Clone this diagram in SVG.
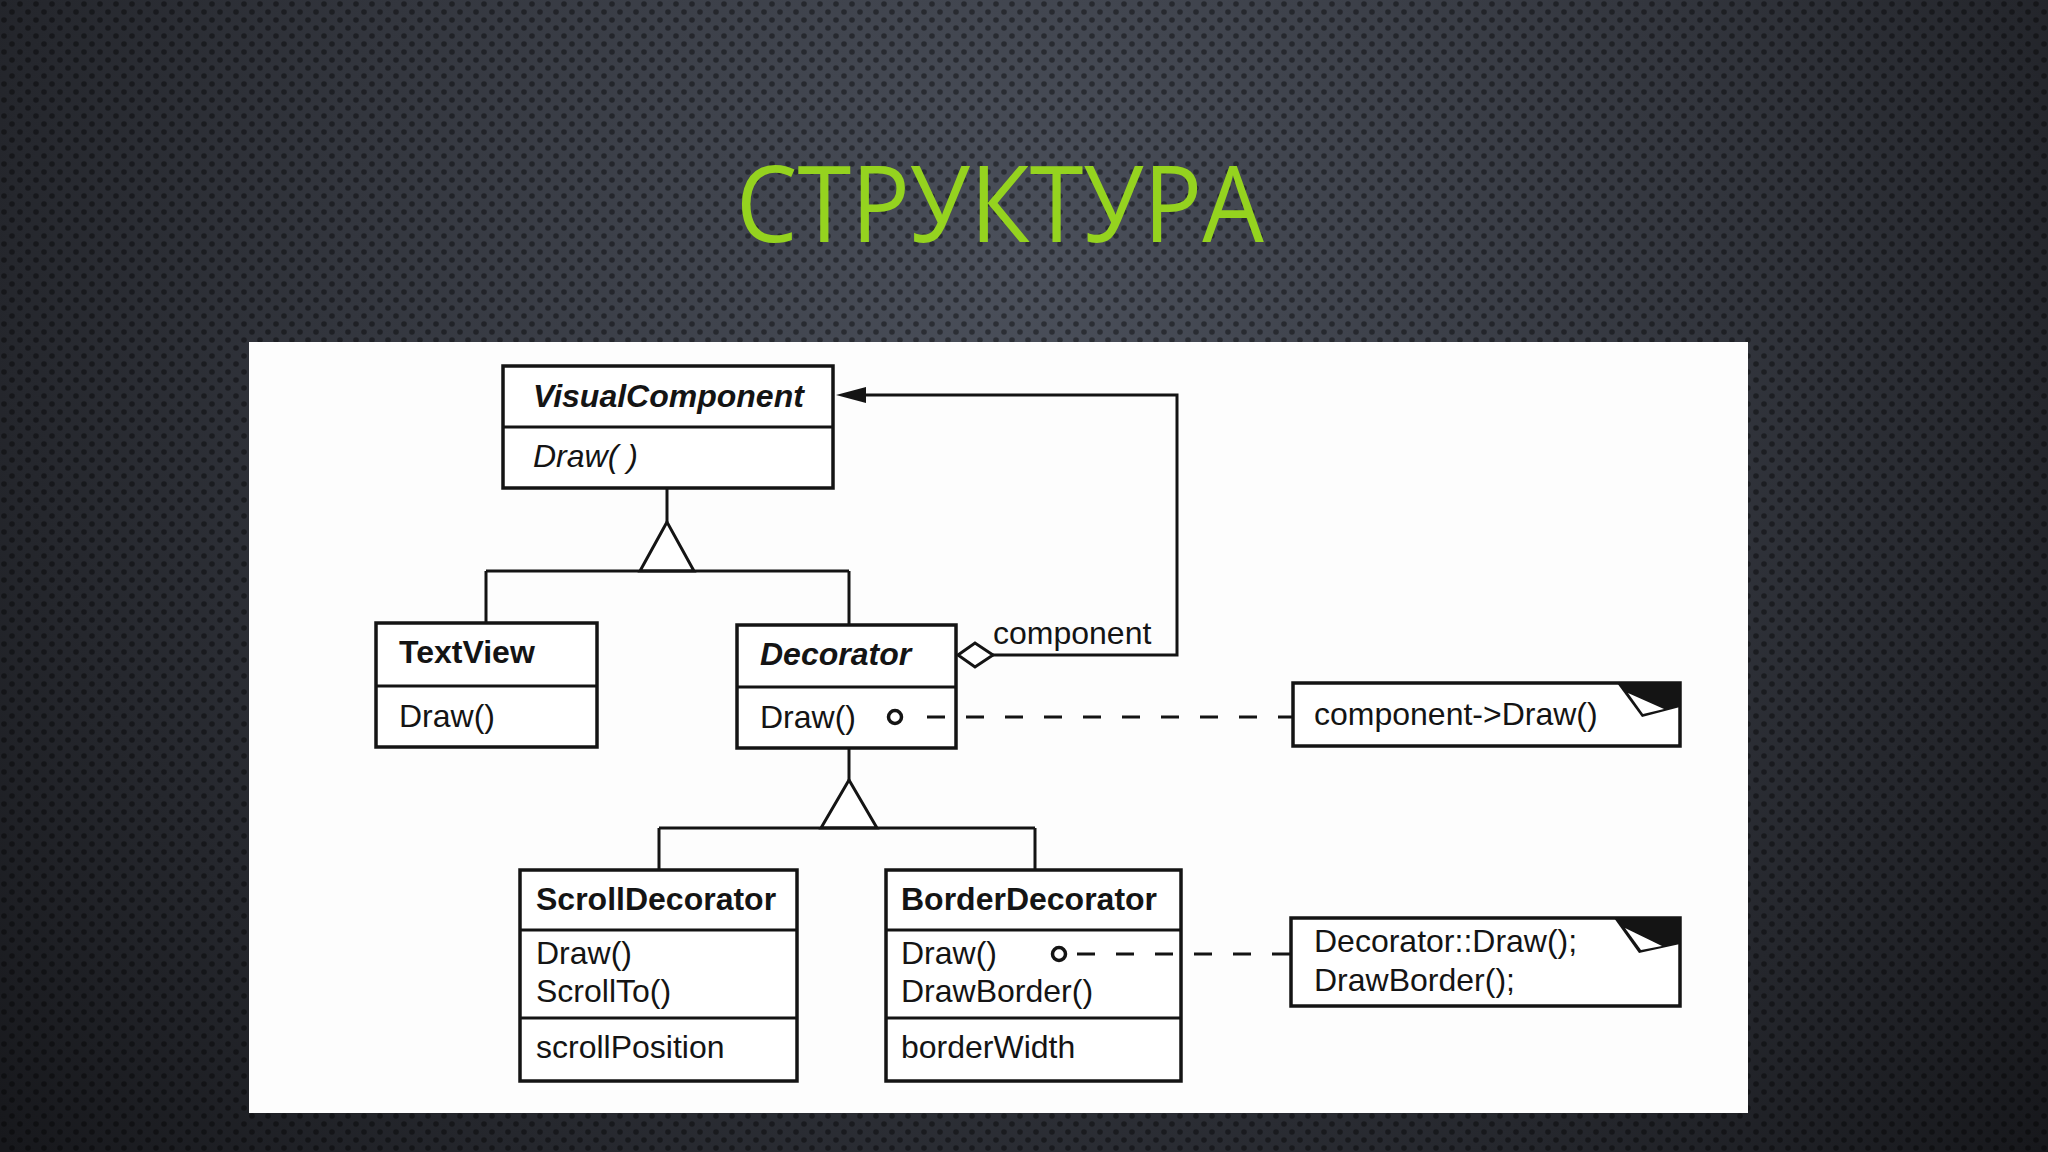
<svg xmlns="http://www.w3.org/2000/svg" width="2048" height="1152" viewBox="0 0 2048 1152">
<defs>
<radialGradient id="bg" cx="1024" cy="260" r="1350" gradientUnits="userSpaceOnUse">
<stop offset="0" stop-color="#4b505b"/>
<stop offset="0.5" stop-color="#33363e"/>
<stop offset="1" stop-color="#17181c"/>
</radialGradient>
<pattern id="dots" width="16" height="16" patternUnits="userSpaceOnUse">
<circle cx="4" cy="4" r="2.8" fill="#000" fill-opacity="0.4"/>
<circle cx="12" cy="12" r="2.8" fill="#000" fill-opacity="0.4"/>
</pattern>
</defs>
<style>
.box{fill:#fff;stroke:#141414;stroke-width:3.5}
.ln{fill:none;stroke:#141414;stroke-width:3}
.tri{fill:#fff;stroke:#141414;stroke-width:3;stroke-linejoin:miter}
.dash{fill:none;stroke:#141414;stroke-width:3;stroke-dasharray:18 21}
.dot{fill:#fff;stroke:#141414;stroke-width:3.5}
.t{font-family:"Liberation Sans",Arial,sans-serif;font-size:32px;fill:#141414}
.b{font-weight:bold;font-size:32px}
.i{font-style:italic}
.title{font-family:"Open Sans","Noto Sans",sans-serif;font-size:106px;fill:#95d31f}
</style>
<rect width="2048" height="1152" fill="url(#bg)"/>
<rect width="2048" height="1152" fill="url(#dots)"/>
<text class="title" x="1000" y="242" text-anchor="middle" textLength="528" lengthAdjust="spacingAndGlyphs">СТРУКТУРА</text>
<rect x="249" y="342" width="1499" height="771" fill="#fdfdfd"/>

<g id="VisualComponent">
<rect class="box" x="503" y="366" width="330" height="122"/>
<path class="ln" d="M503 427H833"/>
<text class="t b i" x="533" y="407">VisualComponent</text>
<text class="t i" x="533" y="467">Draw( )</text>
</g>

<g id="TextView">
<rect class="box" x="376" y="623" width="221" height="124"/>
<path class="ln" d="M376 686H597"/>
<text class="t b" x="399" y="663">TextView</text>
<text class="t" x="399" y="727">Draw()</text>
</g>

<g id="Decorator">
<rect class="box" x="737" y="625" width="219" height="123"/>
<path class="ln" d="M737 687H956"/>
<text class="t b i" x="760" y="665">Decorator</text>
<text class="t" x="760" y="728">Draw()</text>
</g>

<g id="ScrollDecorator">
<rect class="box" x="520" y="870" width="277" height="211"/>
<path class="ln" d="M520 930H797M520 1018H797"/>
<text class="t b" x="536" y="910">ScrollDecorator</text>
<text class="t" x="536" y="964">Draw()</text>
<text class="t" x="536" y="1002">ScrollTo()</text>
<text class="t" x="536" y="1058">scrollPosition</text>
</g>

<g id="BorderDecorator">
<rect class="box" x="886" y="870" width="295" height="211"/>
<path class="ln" d="M886 930H1181M886 1018H1181"/>
<text class="t b" x="901" y="910">BorderDecorator</text>
<text class="t" x="901" y="964">Draw()</text>
<text class="t" x="901" y="1002">DrawBorder()</text>
<text class="t" x="901" y="1058">borderWidth</text>
</g>

<g id="note1">
<rect class="box" x="1293" y="683" width="387" height="63"/>
<polygon points="1617,683 1680,683 1680,707 1642,717" fill="#141414"/>
<polygon points="1628,693 1664,709 1643,714" fill="#fff"/>
<text class="t" x="1314" y="725">component-&gt;Draw()</text>
</g>

<g id="note2">
<rect class="box" x="1291" y="918" width="389" height="88"/>
<polygon points="1614,918 1680,918 1680,944 1639,953" fill="#141414"/>
<polygon points="1625,928 1662,946 1641,950" fill="#fff"/>
<text class="t" x="1314" y="952">Decorator::Draw();</text>
<text class="t" x="1314" y="991">DrawBorder();</text>
</g>

<g id="connectors">
<path class="ln" d="M667 488V522"/>
<polygon class="tri" points="667,522 640,571 694,571"/>
<path class="ln" d="M486 571H849M486 571V623M849 571V625"/>
<path class="ln" d="M849 748V780"/>
<polygon class="tri" points="849,780 821,828 877,828"/>
<path class="ln" d="M659 828H1035M659 828V870M1035 828V870"/>
<path class="ln" d="M993 655H1177V395H864"/>
<polygon points="836,395 866,387 866,403" fill="#141414"/>
<polygon class="tri" points="958,655 975,643 993,655 975,667"/>
<text class="t" x="993" y="644">component</text>
<circle class="dot" cx="895" cy="717" r="6.5"/>
<path class="dash" d="M927 717H1293"/>
<circle class="dot" cx="1059" cy="954" r="6.5"/>
<path class="dash" d="M1077 954H1291"/>
</g>
</svg>
